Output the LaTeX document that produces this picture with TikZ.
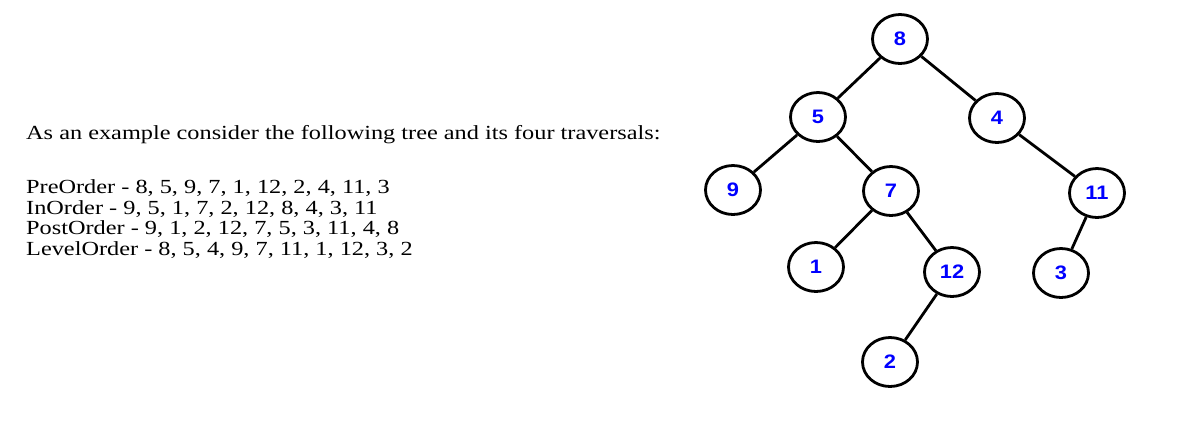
\documentclass[tikz,border=0pt]{standalone}
\usepackage{fontspec}
\setmainfont{Liberation Serif}
\newfontfamily\numfont{Liberation Sans}[FakeStretch=1.12]
\newfontfamily\txtfont{Liberation Serif}[FakeStretch=1.215]
\usetikzlibrary{shapes.geometric}

\tikzset{
    treenode/.style={ellipse,draw,line width=2.8pt,minimum width=55pt,minimum height=49pt,inner sep=0pt,font=\numfont\bfseries\fontsize{19.5}{19.5}\selectfont,text=blue},
    edge/.style={line width=2.8pt},
    txt/.style={anchor=base west,inner sep=0pt,font=\txtfont\fontsize{20}{20}\selectfont}
}

\begin{document}
\begin{tikzpicture}[x=1pt,y=-1pt]
    \useasboundingbox (0,0) rectangle (1200,421);
    \node (head) at (26,139.5) [txt] {As an example consider the following tree and its four traversals:};
    \node (pre) at (26,193.6) [txt] {PreOrder - 8, 5, 9, 7, 1, 12, 2, 4, 11, 3};
    \node (in) at (26,214.2) [txt] {InOrder - 9, 5, 1, 7, 2, 12, 8, 4, 3, 11};
    \node (post) at (26,234.8) [txt] {PostOrder - 9, 1, 2, 12, 7, 5, 3, 11, 4, 8};
    \node (level) at (26,255.4) [txt] {LevelOrder - 8, 5, 4, 9, 7, 11, 1, 12, 3, 2};

    \node (n8) at (900,39) [treenode] {8};
    \node (n5) at (818,117) [treenode] {5};
    \node (n4) at (997,118) [treenode] {4};
    \node (n9) at (733,190) [treenode] {9};
    \node (n7) at (891,191) [treenode] {7};
    \node (n11) at (1097,193) [treenode] {11};
    \node (n1) at (816,267) [treenode] {1};
    \node (n12) at (952,272) [treenode] {12};
    \node (n3) at (1061,273) [treenode] {3};
    \node (n2) at (890,362) [treenode] {2};

    \draw[edge] (n8)--(n5);
    \draw[edge] (n8)--(n4);
    \draw[edge] (n5)--(n9);
    \draw[edge] (n5)--(n7);
    \draw[edge] (n4)--(n11);
    \draw[edge] (n7)--(n1);
    \draw[edge] (n7)--(n12);
    \draw[edge] (n11)--(n3);
    \draw[edge] (n12)--(n2);
\end{tikzpicture}
\end{document}
